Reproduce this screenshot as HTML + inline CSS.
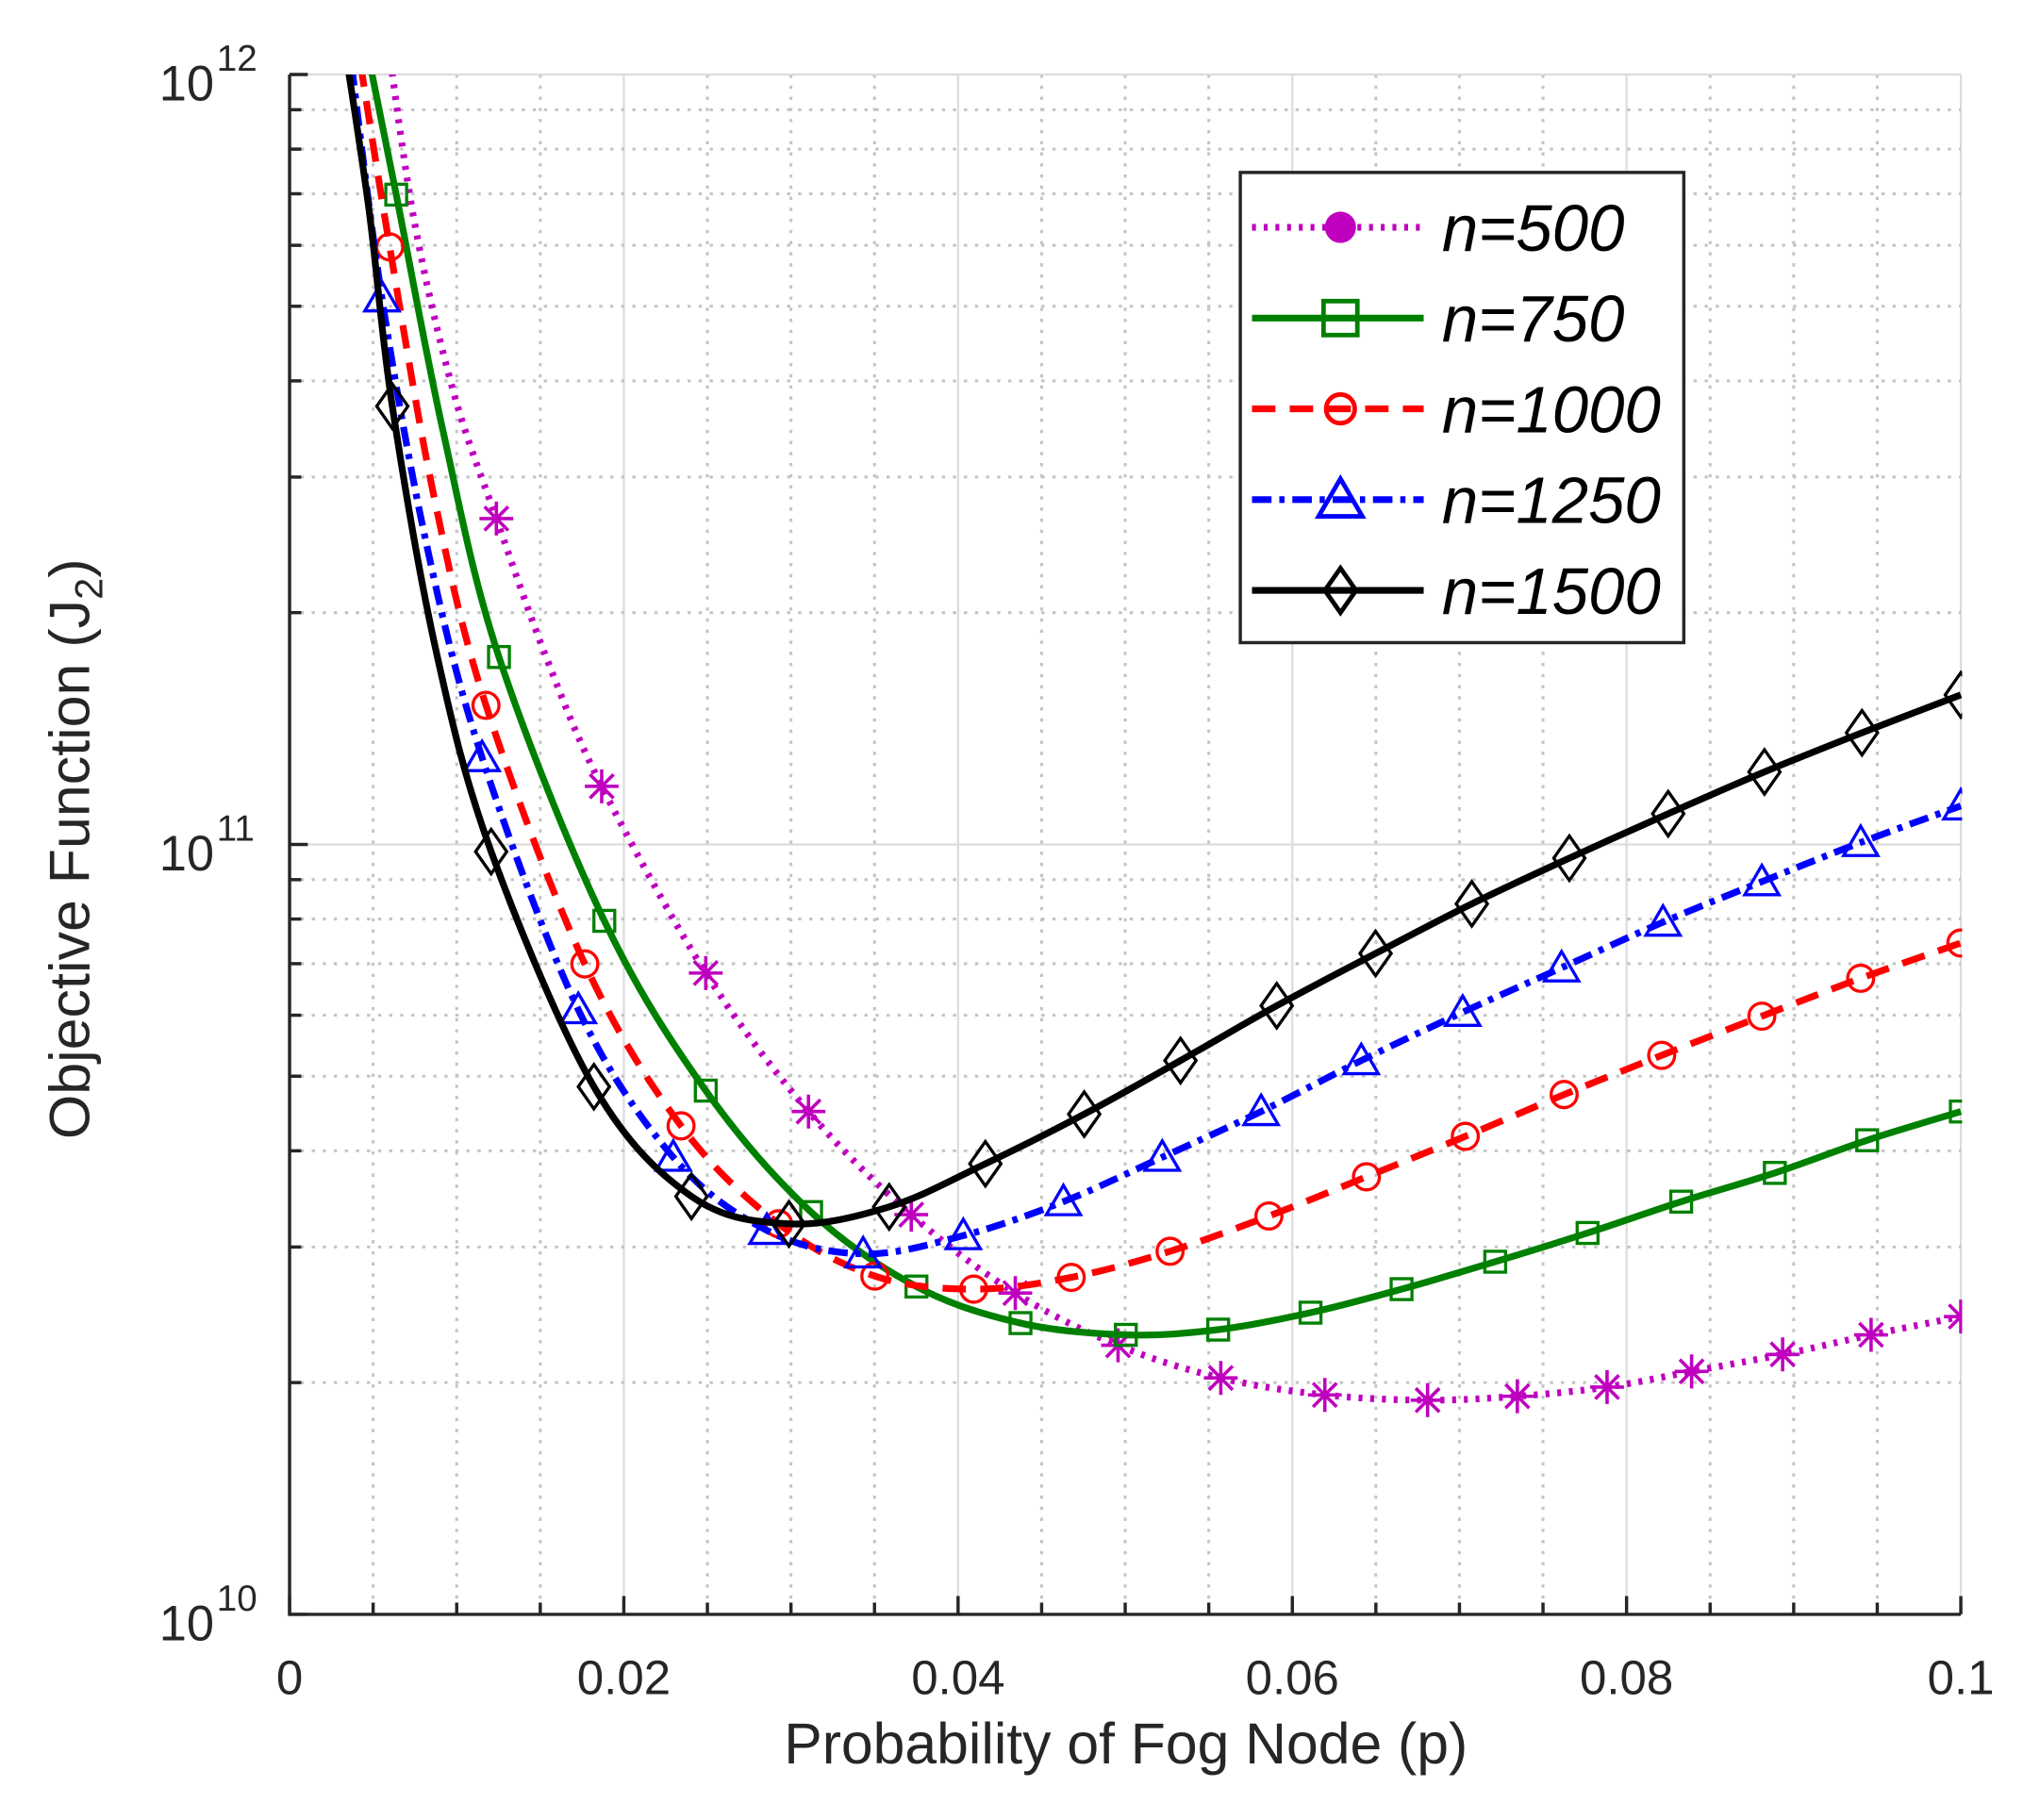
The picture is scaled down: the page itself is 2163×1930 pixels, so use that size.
<!DOCTYPE html>
<html><head><meta charset="utf-8"><style>
html,body{margin:0;padding:0;background:#fff;}
svg{display:block;}
text{font-family:"Liberation Sans",sans-serif;fill:#262626;}
</style></head><body>
<svg id="s" width="2163" height="1930" viewBox="0 0 2163 1930" xmlns="http://www.w3.org/2000/svg">
<defs><clipPath id="c"><rect x="222" y="57" width="1286" height="1180"/></clipPath></defs>
<g id="g" transform="matrix(1.379 0 0 1.385 0.9 0.06)"></g>
</svg>
<script>
const g=document.getElementById('g');
const NS='http://www.w3.org/2000/svg';
function el(t,a,p){const e=document.createElementNS(NS,t);for(const k in a)e.setAttribute(k,a[k]);(p||g).appendChild(e);return e;}
const L=222,R=1507,T=57,B=1236;
for(let i=1;i<20;i++){const x=L+(R-L)*i/20;if(i%4==0)el('line',{x1:x,y1:T,x2:x,y2:B,stroke:'#dcdcdc','stroke-width':1.6});else el('line',{x1:x,y1:T,x2:x,y2:B,stroke:'#c4c4c4','stroke-width':2.2,'stroke-dasharray':'2.5 6'});}
el('line',{x1:R,y1:T,x2:R,y2:B,stroke:'#dcdcdc','stroke-width':1.6});
el('line',{x1:L,y1:T,x2:R,y2:T,stroke:'#dcdcdc','stroke-width':1.6});
const dec=(B-T)/2;
for(let d=0;d<2;d++){for(let m=2;m<10;m++){const y=B-d*dec-Math.log10(m)*dec;el('line',{x1:L,y1:y,x2:R,y2:y,stroke:'#c4c4c4','stroke-width':2.2,'stroke-dasharray':'2.5 6'});el('line',{x1:L,y1:y,x2:L+9,y2:y,stroke:'#262626','stroke-width':2.5});}}
el('line',{x1:L,y1:T+dec,x2:R,y2:T+dec,stroke:'#dcdcdc','stroke-width':1.6});
for(let i=0;i<=20;i++){const x=L+(R-L)*i/20;el('line',{x1:x,y1:B,x2:x,y2:B-(i%4==0?14:9),stroke:'#262626','stroke-width':2.5});}
[T,T+dec,B].forEach(y=>el('line',{x1:L,y1:y,x2:L+14,y2:y,stroke:'#262626','stroke-width':2.5}));
el('path',{d:`M${L} ${T}V${B}H${R}`,fill:'none',stroke:'#262626','stroke-width':2.5});
['0','0.02','0.04','0.06','0.08','0.1'].forEach((s,i)=>{const t=el('text',{x:L+(R-L)*i/5,y:1297,'font-size':37,'text-anchor':'middle'});t.textContent=s;});
[['12',T],['11',T+dec],['10',B]].forEach(([e,y])=>{const t=el('text',{x:164,y:y+20,'font-size':38,'text-anchor':'end'});t.textContent='10';const u=el('text',{x:166,y:y-3,'font-size':28});u.textContent=e;});
let t=el('text',{x:865,y:1350,'font-size':44,'text-anchor':'middle'});t.textContent='Probability of Fog Node (p)';
t=el('text',{x:0,y:0,'font-size':44,'text-anchor':'middle',transform:'translate(68,650) rotate(-90)'});t.innerHTML='Objective Function (J<tspan font-size="30" dy="10">2</tspan><tspan dy="-10">)</tspan>';
const S=[
{c:'#bf00bf',d:'3 6',m:'ast',pts:[[296,20,0],[318,170,0],[348,300,0],[381,397],[420,505,0],[462,602],[542,745],[621,851],[700,930],[780,990],[859,1030],[938,1055],[1018,1068],[1097,1072],[1166,1069],[1235,1062],[1300,1050],[1370,1037],[1438,1022],[1507,1008]]},
{c:'#008000',d:'',m:'sq',pts:[[278,20,0],[304,149],[340,330,0],[383,503],[464,705],[542,835],[623,928],[704,985],[784,1013],[865,1022],[936,1018],[1007,1005],[1077,987],[1149,966],[1220,944],[1292,920],[1364,898],[1435,873],[1507,851]]},
{c:'#ff0000',d:'18 11',m:'ci',pts:[[272,20,0],[299,189],[333,380,0],[373,540],[449,738],[523,862],[598,937],[672,977],[748,987],[823,978],[899,958],[975,931],[1050,901],[1126,870],[1202,838],[1277,808],[1354,778],[1430,749],[1507,722]]},
{c:'#0000ff',d:'15 6 4 6',m:'tr',pts:[[266,20,0],[293,228],[328,420,0],[370,580],[444,773],[517,886],[589,942],[663,960],[740,946],[817,920],[893,886],[969,851],[1046,812],[1124,775],[1200,741],[1278,706],[1354,675],[1430,645],[1507,617]]},
{c:'#000000',d:'',m:'di',pts:[[262,20,0],[283,160,0],[301,311],[335,500,0],[377,652],[456,832],[531,916],[606,937],[683,924],[757,891],[833,853],[907,812],[981,770],[1057,730],[1131,692],[1206,657],[1282,623],[1356,591],[1431,561],[1507,532]]}
];
function cr(p){let d=`M${p[0][0]} ${p[0][1]}`;for(let i=0;i<p.length-1;i++){const a=p[Math.max(0,i-1)],b=p[i],c=p[i+1],e=p[Math.min(p.length-1,i+2)];d+=`C${b[0]+(c[0]-a[0])/6} ${b[1]+(c[1]-a[1])/6} ${c[0]-(e[0]-b[0])/6} ${c[1]-(e[1]-b[1])/6} ${c[0]} ${c[1]}`;}return d;}
function marker(m,x,y,c,par,big){const sw=big?3.5:2.4;const o={fill:'none',stroke:c,'stroke-width':sw};
 if(m=='ast'){const r=13;const d=`M${x-r} ${y}H${x+r}M${x} ${y-r}V${y+r}M${x-r*.7} ${y-r*.7}L${x+r*.7} ${y+r*.7}M${x-r*.7} ${y+r*.7}L${x+r*.7} ${y-r*.7}`;el('path',Object.assign({},o,{d,'stroke-width':2.6}),par);}
 if(m=='sq'){const r=big?13:8;el('rect',Object.assign({},o,{x:x-r,y:y-r,width:2*r,height:2*r}),par);}
 if(m=='ci'){el('circle',Object.assign({},o,{cx:x,cy:y,r:big?11:10}),par);}
 if(m=='tr'){const r=big?16:12.5;el('path',Object.assign({},o,{d:`M${x} ${y-r}L${x+r*1.05} ${y+r*0.8}H${x-r*1.05}Z`}),par);}
 if(m=='di'){el('path',Object.assign({},o,{d:`M${x} ${y-17}L${x+12} ${y}L${x} ${y+17}L${x-12} ${y}Z`}),par);}
}
const cg=el('g',{'clip-path':'url(#c)'});
S.forEach(s=>{const a={d:cr(s.pts),fill:'none',stroke:s.c,'stroke-width':5.2,'stroke-linejoin':'round'};if(s.d)a['stroke-dasharray']=s.d;el('path',a,cg);
 s.pts.forEach(p=>{if(p[2]!==0&&p[1]>40)marker(s.m,p[0],p[1],s.c,cg);});});
el('rect',{x:953,y:132,width:341,height:360,fill:'#fff',stroke:'#262626','stroke-width':2.5});
['n=500','n=750','n=1000','n=1250','n=1500'].forEach((n,i)=>{const y=174+i*69.5,s=S[i];const a={x1:962,y1:y,x2:1094,y2:y,stroke:s.c,'stroke-width':5.2};if(s.d)a['stroke-dasharray']=s.d;el('line',a);
 if(s.m=='ast'){el('circle',{cx:1030,cy:y,r:12,fill:s.c});}else marker(s.m,1030,y,s.c,g,true);
 const tt=el('text',{x:1108,y:y+18,'font-size':50,'font-style':'italic'});tt.style.fill='#000';tt.textContent=n;});
</script>
</body></html>
